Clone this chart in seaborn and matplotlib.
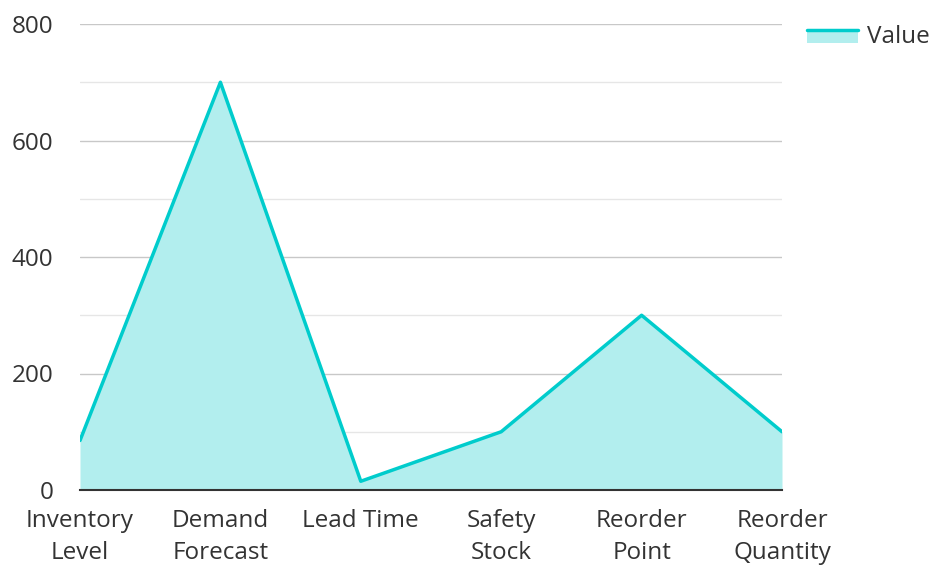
import numpy as np
import pandas as pd
import matplotlib
matplotlib.use("Agg")
import matplotlib.pyplot as plt
import seaborn as sns
from matplotlib.legend_handler import HandlerBase
from matplotlib.patches import Rectangle
from matplotlib.lines import Line2D

sns.set_style("white")
plt.rcParams['font.family'] = ['Open Sans', 'DejaVu Sans']

categories = ["Inventory\nLevel", "Demand\nForecast", "Lead Time", "Safety\nStock", "Reorder\nPoint", "Reorder\nQuantity"]
values = [85, 700, 15, 100, 300, 100]

line_color = "#00cccc"
fill_color = "#b2eeee"
text_color = "#333333"
fs = 17.5

df = pd.DataFrame({"x": np.arange(len(categories)), "value": values})

fig = plt.figure(figsize=(9.32, 5.66), dpi=100)
ax = fig.add_axes([80 / 932, 76 / 566, 702 / 932, 466 / 566])

# minor and major gridlines
for y in [100, 300, 500, 700]:
    ax.axhline(y, color="#e6e6e6", lw=1, zorder=0)
for y in [200, 400, 600, 800]:
    ax.axhline(y, color="#c8c8c8", lw=1, zorder=0)

ax.fill_between(df["x"], df["value"], color=fill_color, lw=0, zorder=1)
sns.lineplot(data=df, x="x", y="value", color=line_color, lw=2.5, ax=ax, zorder=2)

ax.set_xlim(0, len(categories) - 1)
ax.set_ylim(0, 800)
ax.set_xticks(df["x"])
ax.set_xticklabels(categories, fontsize=fs, color=text_color, linespacing=1.42)
ax.set_yticks([0, 200, 400, 600, 800])
ax.set_yticklabels(["0", "200", "400", "600", "800"], fontsize=fs, color=text_color)
ax.tick_params(axis="x", length=0, pad=14)
ax.tick_params(axis="y", length=0, pad=19)
ax.set_xlabel("")
ax.set_ylabel("")
for s in ["top", "right", "left"]:
    ax.spines[s].set_visible(False)
ax.spines["bottom"].set_color("#333333")
ax.spines["bottom"].set_linewidth(1.5)
ax.spines["bottom"].set_zorder(3)


class AreaHandler(HandlerBase):
    def create_artists(self, legend, orig_handle, xdescent, ydescent, width, height, fontsize, trans):
        rect = Rectangle((-xdescent, -ydescent), width, height * 0.75, facecolor=fill_color,
                         edgecolor="none", transform=trans)
        top = -ydescent + height * 0.75
        line = Line2D([-xdescent, -xdescent + width], [top, top], color=line_color, lw=2.5, transform=trans)
        return [rect, line]


handle = Rectangle((0, 0), 1, 1)
fig.legend([handle], ["Value"], handler_map={Rectangle: AreaHandler()},
           loc="upper left", bbox_to_anchor=(807 / 932, 1 - 25 / 566), frameon=False,
           borderpad=0, borderaxespad=0,
           fontsize=fs, labelcolor=text_color, handlelength=2.1, handletextpad=0.35)

fig.savefig("out.png", dpi=100)
